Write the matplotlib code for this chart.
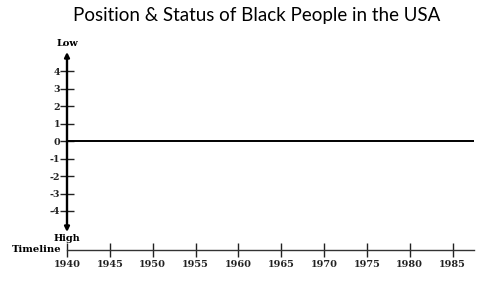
import matplotlib
matplotlib.use("Agg")
import matplotlib.pyplot as plt

title = "Position & Status of Black People in the USA"
years = [1940, 1945, 1950, 1955, 1960, 1965, 1970, 1975, 1980, 1985]
status_ticks = [4, 3, 2, 1, 0, -1, -2, -3, -4]
status_labels = ["4", "3", "2", "1", "0", "-1", "-2", "-3", "-4"]

W, H = 500, 281
fig = plt.figure(figsize=(W / 100, H / 100), dpi=100)
fig.patch.set_facecolor("white")

# axes from x px 67..474, y px 52..250 (top-down)
ax = fig.add_axes([67 / W, 1 - 250 / H, (474 - 67) / W, (250 - 52) / H])
ax.set_xlim(1940, 1987.5)
ax.set_ylim(-6.23, 5.09)
ax.patch.set_alpha(0)

for s in ["top", "right", "left"]:
    ax.spines[s].set_visible(False)
ax.spines["bottom"].set_linewidth(1.0)
ax.spines["bottom"].set_color("#333333")

serif = "DejaVu Serif"
ax.set_xticks(years)
ax.set_xticklabels([str(y) for y in years], fontfamily=serif, fontweight="bold", fontsize=7)
ax.tick_params(axis="x", direction="inout", length=10, width=1.0, pad=2.5, colors="#222222")

ax.set_yticks(status_ticks)
ax.set_yticklabels(status_labels, fontfamily=serif, fontweight="bold", fontsize=6.8)
ax.tick_params(axis="y", direction="inout", length=10, width=1.0, pad=0, colors="#222222")

# vertical axis with arrows
ax.annotate("", xy=(1940, 5.09), xytext=(1940, -5.2),
            arrowprops=dict(arrowstyle="<|-|>", lw=1.7, color="black",
                            mutation_scale=7, shrinkA=0, shrinkB=0),
            annotation_clip=False)
# zero line
ax.axhline(0, color="black", lw=1.4)

ax.text(1940, 5.3, "Low", ha="center", va="bottom", fontfamily=serif,
        fontweight="bold", fontsize=7, clip_on=False)
ax.text(1940, -5.3, "High", ha="center", va="top", fontfamily=serif,
        fontweight="bold", fontsize=7, clip_on=False)
ax.text(1939.4, -6.23, "Timeline", ha="right", va="center", fontfamily=serif,
        fontweight="bold", fontsize=7.2, clip_on=False)

fig.text(257 / W, 1 - 16 / H, title, ha="center", va="center", fontfamily="Lato",
         fontsize=13.5)

fig.savefig("out.png", dpi=100, facecolor="white")
